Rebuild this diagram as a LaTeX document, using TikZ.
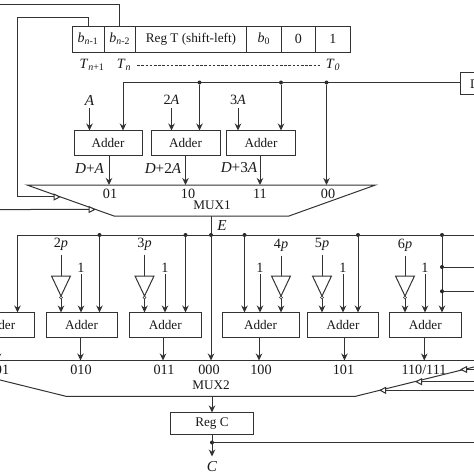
\documentclass[tikz,border=0pt]{standalone}
\usepackage{fontspec}
\setmainfont{Liberation Serif}
\usepackage{xcolor}
\usetikzlibrary{arrows.meta, positioning, shapes.geometric, calc}

\begin{document}
\begin{tikzpicture}[
        x=1pt, y=1pt,
        >={Stealth[length=7pt, width=6.5pt]},
        line width=1pt,
        color=black!80,
        every node/.style={font=\fontsize{13.2}{15}\selectfont, inner sep=0pt, outer sep=0pt, text=black!90},
        cell/.style={draw, minimum height=26pt, align=center, font=\fontsize{14}{16}\selectfont},
        adder/.style={draw, minimum height=24.5pt, minimum width=71.5pt},
        bigtxt/.style={font=\fontsize{15.2}{17}\selectfont},
        bit/.style={font=\fontsize{14.2}{16}\selectfont},
        dot/.style={circle, fill=black!85, minimum size=4pt},
        inv/.style={draw, isosceles triangle, isosceles triangle apex angle=52, isosceles triangle stretches,
            shape border rotate=270, minimum width=19pt, minimum height=20pt, anchor=lower side},
        bubble/.style={circle, draw, line width=0.6pt, fill=white, minimum size=3pt},
        sel/.style={-{Triangle[open, fill=white, length=7pt, width=7pt]}},
    ]
    \useasboundingbox (0,0) rectangle (474,-474);
    \clip (0,0) rectangle (474,-474);

    % ── Reg T (top row) ──
    \node[cell, minimum width=32pt] (bn1) at (88,-39) {\textit{b}\textsubscript{\textit{n}-1}};
    \node[cell, minimum width=31.5pt, right=0pt of bn1] (bn2) {\textit{b}\textsubscript{\textit{n}-2}};
    \node[cell, minimum width=111pt, right=0pt of bn2, font=\fontsize{13.2}{15}\selectfont] (regT) {Reg T (shift-left)};
    \node[cell, minimum width=34.5pt, right=0pt of regT] (b0) {\textit{b}\textsubscript{0}};
    \node[cell, minimum width=34.5pt, right=0pt of b0] (zero) {0};
    \node[cell, minimum width=34.5pt, right=0pt of zero] (one) {1};

    \node[bit] (Tn1) at (92,-65) {\textit{T}\textsubscript{\textit{n}+1}};
    \node[bit] (Tn) at (124,-65) {\textit{T}\textsubscript{\textit{n}}};
    \node[bit] (T0) at (333,-65) {\textit{T}\textsubscript{\textit{0}}};
    \draw[dash pattern=on 2.6pt off 1.6pt, line width=0.7pt] ([xshift=6pt]Tn.east) -- ([xshift=-6pt]T0.west);

    % ── D bus ──
    \node[draw, minimum width=30pt, minimum height=22.5pt] (regD) at (475,-83.7) {D};
    \node[dot] (d1) at (199.5,-82.5) {};
    \node[dot] (d2) at (281,-82.5) {};
    \node[dot] (d3) at (326.5,-82.5) {};
    \coordinate (d0) at (123,-82.5);

    % ── First row of adders ──
    \node[adder, minimum width=68pt] (add1) at (108,-142.75) {Adder};
    \node[adder, minimum width=69pt, right=9pt of add1] (add2) {Adder};
    \node[adder, minimum width=69pt, right=6.5pt of add2] (add3) {Adder};
    \node[bigtxt] (lblA) at (89.5,-100) {\textit{A}};
    \node[bit] (lbl2A) at (171.5,-100) {2\textit{A}};
    \node[bit] (lbl3A) at (238,-100) {3\textit{A}};

    \draw (regD.west |- d0) -- (d0);
    \draw[->] (d0) -- (d0 |- add1.north);
    \draw[->] (d1) -- (d1 |- add2.north);
    \draw[->] (d2) -- (d2 |- add3.north);
    \draw[->] ([yshift=-3pt]lblA.south) -- (lblA |- add1.north);
    \draw[->] ([yshift=-3.5pt]lbl2A.south) -- (lbl2A |- add2.north);
    \draw[->] ([yshift=-3.5pt]lbl3A.south) -- (lbl3A |- add3.north);

    % ── MUX1 ──
    \coordinate (m1a) at (27,-185);
    \coordinate (m1b) at (375.5,-185);
    \coordinate (m1c) at (289,-216);
    \coordinate (m1d) at (114,-216);
    \draw (m1a) -- (m1b) -- (m1c) -- (m1d) -- cycle;
    \node[bit] (s01) at (110,-193.5) {01};
    \node[bit] (s10) at (188,-193.5) {10};
    \node[bit] (s11) at (260,-193.5) {11};
    \node[bit] (s00) at (328,-193.5) {00};
    \node (mux1) at (212,-205) {MUX1};
    \node[bigtxt] (lblDA) at (89.5,-168) {\textit{D}+\textit{A}};
    \node[bigtxt] (lblD2A) at (163,-168) {\textit{D}+2\textit{A}};
    \node[bigtxt] (lblD3A) at (239,-168) {\textit{D}+3\textit{A}};

    \coordinate (o1) at (109,-185);
    \coordinate (o2) at (185.5,-185);
    \coordinate (o3) at (260,-185);
    \draw[->] (add1.south -| o1) -- (o1);
    \draw[->] (add2.south -| o2) -- (o2);
    \draw[->] (add3.south -| o3) -- (o3);
    \draw[->] (d3) -- (d3 |- m1a);

    % ── Feedback from Reg T to MUX1 ──
    \coordinate (selA) at ($(m1a)!0.387!(m1d)$);
    \coordinate (selB) at ($(m1a)!0.79!(m1d)$);
    \coordinate (fbA) at (17.5,-17);
    \coordinate (fbB) at (0,-4);
    \coordinate (fbC) at (0,-209.5);
    \draw (bn1.north) |- (fbA);
    \draw[sel] (fbA) |- (selA);
    \draw (bn2.north) |- (fbB);
    \draw[sel] (fbC) -- (selB);

    % ── E bus ──
    \node[dot] (e1) at (99.5,-235) {};
    \node[dot] (e2) at (185.5,-235) {};
    \node[dot] (e3) at (211,-235) {};
    \node[dot] (e4) at (244.5,-235) {};
    \node[dot] (e5) at (358,-235) {};
    \node[dot] (e6) at (442,-235) {};
    \coordinate (e0) at (17.5,-235);
    \coordinate (e7) at (474,-235);
    \node[bigtxt] (lblE) at (222,-226) {\textit{E}};
    \draw (e0) -- (e7);
    \draw (e3 |- m1d) -- (e3);

    % ── Second row of adders ──
    \node[adder] (add4) at (-1.25,-324.75) {Adder};
    \node[adder, minimum width=71pt, right=11.5pt of add4] (add5) {Adder};
    \node[adder, right=12.5pt of add5] (add6) {Adder};
    \node[adder, minimum width=77pt, right=21pt of add6] (add7) {Adder};
    \node[adder, minimum width=71pt, right=8.5pt of add7] (add8) {Adder};
    \node[adder, right=11pt of add8] (add9) {Adder};

    \draw[->] (e0) -- (e0 |- add4.north);
    \draw[->] (e1) -- (e1 |- add5.north);
    \draw[->] (e2) -- (e2 |- add6.north);
    \draw[->] (e4) -- (e4 |- add7.north);
    \draw[->] (e5) -- (e5 |- add8.north);
    \draw[->] (e6) -- (e6 |- add9.north);

    % ── Inverters ──
    \node[bit] (lbl2p) at (61,-244) {2\textit{p}};
    \node[bit] (lbl3p) at (144.5,-244) {3\textit{p}};
    \node[bit] (lbl4p) at (281,-245) {4\textit{p}};
    \node[bit] (lbl5p) at (322,-244) {5\textit{p}};
    \node[bit] (lbl6p) at (405,-245) {6\textit{p}};
    \node[inv] (inv2) at (61,-276) {};
    \node[inv] (inv3) at (144.5,-276) {};
    \node[inv] (inv4) at (281,-276) {};
    \node[inv] (inv5) at (322,-276) {};
    \node[inv] (inv6) at (405,-276) {};
    \node[bubble, below=0pt of inv2.apex] (bub2) {};
    \node[bubble, below=0pt of inv3.apex] (bub3) {};
    \node[bubble, below=0pt of inv4.apex] (bub4) {};
    \node[bubble, below=0pt of inv5.apex] (bub5) {};
    \node[bubble, below=0pt of inv6.apex] (bub6) {};
    \draw ([yshift=-4.5pt]lbl2p.south) -- (inv2.lower side);
    \draw ([yshift=-4.5pt]lbl3p.south) -- (inv3.lower side);
    \draw ([yshift=-4.5pt]lbl4p.south) -- (inv4.lower side);
    \draw ([yshift=-4.5pt]lbl5p.south) -- (inv5.lower side);
    \draw ([yshift=-4.5pt]lbl6p.south) -- (inv6.lower side);
    \draw[->] (bub2) -- (bub2 |- add5.north);
    \draw[->] (bub3) -- (bub3 |- add6.north);
    \draw[->] (bub4) -- (bub4 |- add7.north);
    \draw[->] (bub5) -- (bub5 |- add8.north);
    \draw[->] (bub6) -- (bub6 |- add9.north);

    % ── Carry inputs ──
    \node[bit] (c5) at (81,-268) {1};
    \node[bit] (c6) at (165,-268) {1};
    \node[bit] (c7) at (260,-268) {1};
    \node[bit] (c8) at (343,-268) {1};
    \node[bit] (c9) at (425,-268) {1};
    \draw[->] ([yshift=-1pt]c5.south) -- (c5 |- add5.north);
    \draw[->] ([yshift=-1pt]c6.south) -- (c6 |- add6.north);
    \draw[->] ([yshift=-1pt]c7.south) -- (c7 |- add7.north);
    \draw[->] ([yshift=-1pt]c8.south) -- (c8 |- add8.north);
    \draw[->] ([yshift=-1pt]c9.south) -- (c9 |- add9.north);

    % ── MUX2 ──
    \coordinate (m2a) at (-10,-360.5);
    \coordinate (m2b) at (484,-360.5);
    \coordinate (m2c) at (355.5,-396.3);
    \coordinate (m2d) at (66,-396.3);
    \coordinate (m2e) at (-10,-377.5);
    \coordinate (m2f) at (484,-364.5);
    \draw (m2b) -- (m2a);
    \draw (m2e) -- (m2d) -- (m2c) -- (m2f);
    \node[bit] (s001) at (-1.5,-369.5) {001};
    \node[bit] (s010) at (81,-369.5) {010};
    \node[bit] (s011) at (164,-369.5) {011};
    \node[bit] (s000) at (209,-369.5) {000};
    \node[bit] (s100) at (261,-369.5) {100};
    \node[bit] (s101) at (343.5,-369.5) {101};
    \node[bit] (s110) at (424,-369.5) {110/111};
    \node (mux2) at (211,-385) {MUX2};

    \coordinate (o4) at (-2,-360.5);
    \coordinate (o5) at (80.5,-360.5);
    \coordinate (o6) at (163,-360.5);
    \coordinate (o7) at (259,-360.5);
    \coordinate (o8) at (344.5,-360.5);
    \coordinate (o9) at (424.3,-360.5);
    \draw[->] (add4.south -| o4) -- (o4);
    \draw[->] (add5.south -| o5) -- (o5);
    \draw[->] (add6.south -| o6) -- (o6);
    \draw[->] (e3) -- (e3 |- m2a);
    \draw[->] (add7.south -| o7) -- (o7);
    \draw[->] (add8.south -| o8) -- (o8);
    \draw[->] (add9.south -| o9) -- (o9);

    % ── Select lines of MUX2 ──
    \coordinate (in1) at (474,-369.5);
    \coordinate (in2) at (474,-381.7);
    \coordinate (in3) at (474,-390.3);
    \coordinate (x1) at (460,-369.5);
    \coordinate (x2) at (415,-381.7);
    \coordinate (x3) at (379,-390.3);
    \draw[sel] (in1) -- (x1);
    \draw[sel] (in2) -- (x2);
    \draw[sel] (in3) -- (x3);

    % ── Reg C ──
    \node[draw, minimum width=83.5pt, minimum height=22.5pt] (regC) at (212,-423.7) {Reg C};
    \node[bigtxt] (lblC) at (212,-467) {\textit{C}};
    \node[dot] (c1) at (212,-442.5) {};
    \coordinate (cout) at (212,-456.5);
    \coordinate (cback) at (474,-442.5);
    \draw[->] (regC |- m2d) -- (regC.north);
    \draw[->] (regC.south) -- (cout);
    \draw (c1) -- (cback);

    % ── Taps of the E bus on the right ──
    \node[dot] (t1) at (442,-267) {};
    \node[dot] (t2) at (442,-291.3) {};
    \coordinate (t1e) at (474,-267);
    \coordinate (t2e) at (474,-291.3);
    \draw (t1) -- (t1e);
    \draw (t2) -- (t2e);

\end{tikzpicture}
\end{document}
